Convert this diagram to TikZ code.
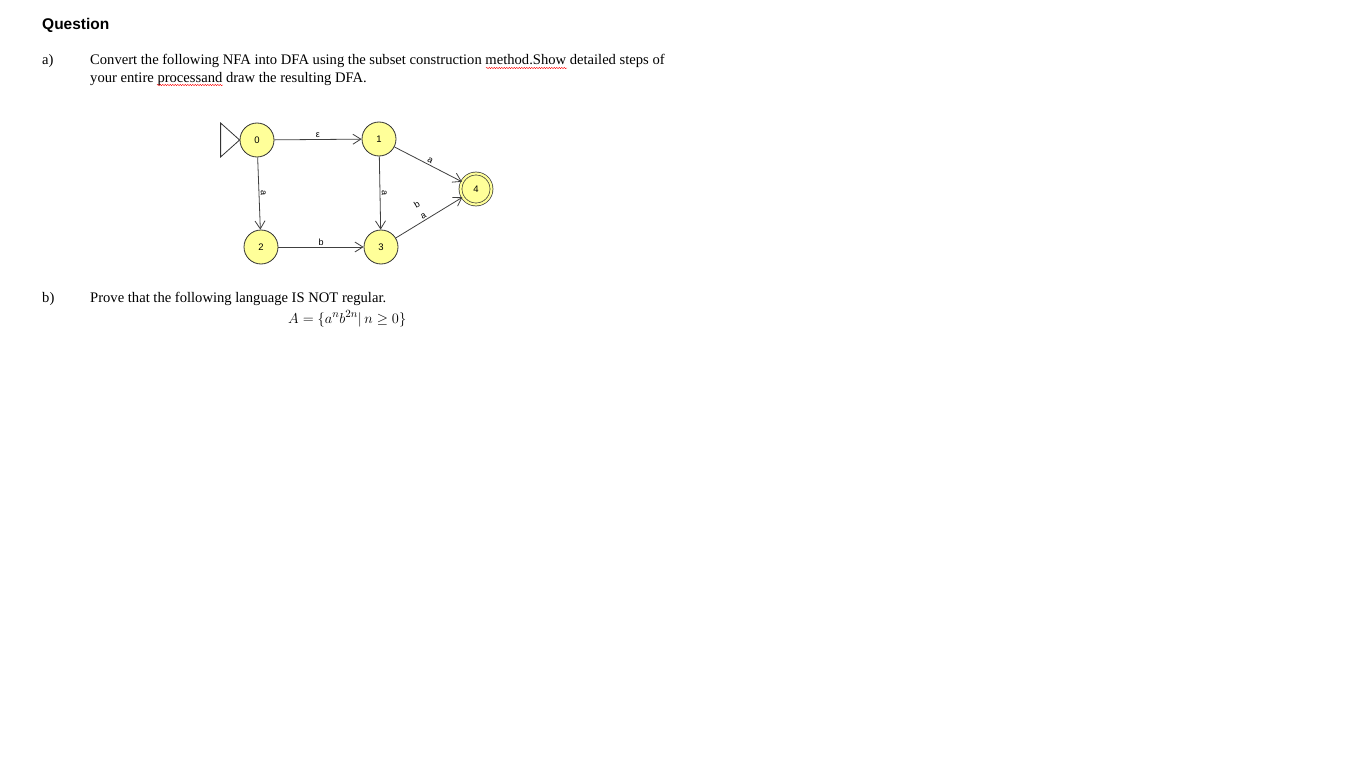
\documentclass[tikz,border=0pt]{standalone}
\usepackage{fontspec}
\setmainfont{Liberation Serif}
\newfontfamily\arialfont{Liberation Sans}
\usetikzlibrary{arrows.meta,decorations.pathmorphing}
\definecolor{stateyellow}{RGB}{255,255,153}
\tikzset{
  state/.style={circle,draw=black!80,line width=0.8pt,fill=stateyellow,minimum size=34pt,inner sep=0pt,
    font=\arialfont\fontsize{9.5}{9.5}\selectfont},
  accept/.style={state,double=stateyellow,double distance=2.2pt,line width=0.7pt,minimum size=31pt},
  trans/.style={draw=black!75,line width=0.8pt,-{Straight Barb[length=8pt,width=10pt]}},
  lbl/.style={font=\arialfont\fontsize{9}{9}\selectfont,inner sep=1.5pt},
  txt/.style={anchor=base west,inner sep=0pt,font=\fontsize{14.6}{17}\selectfont},
  spell/.style={draw=red,decorate,decoration={snake,amplitude=0.7pt,segment length=2.5pt}}
}
\begin{document}
\begin{tikzpicture}[x=1pt,y=-1pt]
\useasboundingbox[fill=white] (0,0) rectangle (1366,768);
% question a
\node[anchor=base west,inner sep=0pt,font=\arialfont\bfseries\fontsize{15.5}{15.5}\selectfont] (title) at (42,30) {Question};
\node[txt] (qa) at (42,65) {a)};
\node[txt] (qaone) at (90,65) {Convert the following NFA into DFA using the subset construction method.Show detailed steps of};
\node[txt] (qatwo) at (90,82) {your entire processand draw the resulting DFA.};
\draw[spell] (486,68) -- (567,68);
\draw[spell] (157,85) -- (223,85);
% the NFA
\node[state] (q0) at (257,140) {0};
\node[state] (q1) at (379,139) {1};
\node[state] (q2) at (261,247) {2};
\node[state] (q3) at (381,247) {3};
\node[accept] (q4) at (476,189) {4};
\draw[draw=black!80,line width=0.8pt] (q0.west) -- ++(-19,-17) -- ++(0,34) -- cycle;
\draw[trans] (q0) -- node[lbl,above]{ε} (q1);
\draw[trans] (q0) -- node[lbl,rotate=-90,anchor=south]{a} (q2);
\draw[trans] (q1) -- node[lbl,rotate=-90,anchor=south]{a} (q3);
\draw[trans] (q2) -- node[lbl,above]{b} (q3);
\draw[trans] (q1) -- node[lbl,sloped,above]{a} (q4);
\draw[trans] (q3) -- node[lbl,sloped,above,pos=0.45,align=center,font=\arialfont\fontsize{9}{12}\selectfont]{b\\a} (q4);
% question b
\node[txt] (qb) at (42,302) {b)};
\node[txt] (qbone) at (90,302) {Prove that the following language IS NOT regular.};
\node[txt,font=\fontsize{15.2}{18}\selectfont] (lang) at (288,323) {$A=\{a^n b^{2n}|\,n\geq 0\}$};
\end{tikzpicture}
\end{document}
